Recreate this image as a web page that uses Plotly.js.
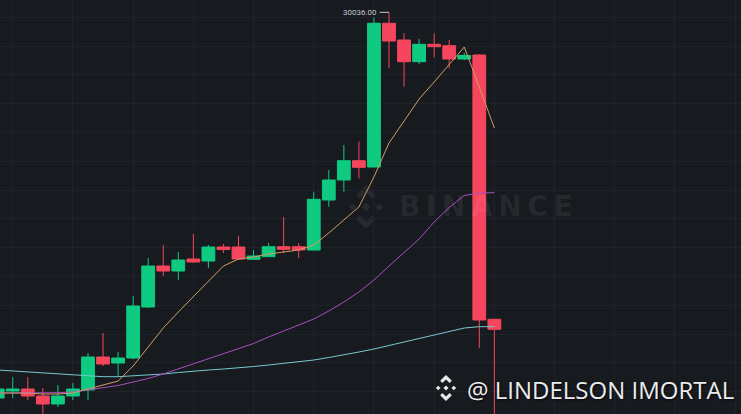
<!DOCTYPE html>
<html>
<head>
<meta charset="utf-8">
<script src="https://cdn.plot.ly/plotly-3.0.1.min.js"></script>
<style>
    html, body { margin: 0; padding: 0; background: #171a1f; }
    #chart { width: 741px; height: 414px; }
</style>
</head>
<body>
<div id="chart"></div>
<script>

// ==========================================================
// CANDLE DATA
// ==========================================================

let opens = [
    26179, 26249, 26269, 26199, 26119, 26199, 26259, 26589, 26529, 26579,
    27089, 27499, 27449, 27569, 27549, 27689, 27689, 27566, 27592, 27692,
    27692, 27659, 28159, 28359, 28552, 28489, 29926, 29759, 29542, 29716,
    29702, 29569, 29609, 26966
];

let highs = [
    26299, 26389, 26389, 26279, 26309, 26329, 26629, 26829, 26639, 27199,
    27579, 27709, 27639, 27819, 27709, 27719, 27799, 27659, 27729, 27989,
    27729, 28242, 28459, 28709, 28742, 29982, 30036, 29826, 29769, 29826,
    29759, 29629, 29619, 26969
];

let lows = [
    26149, 26179, 26159, 26019, 26089, 26159, 26159, 26499, 26389, 26569,
    27079, 27399, 27359, 27529, 27479, 27629, 27559, 27559, 27589, 27629,
    27579, 27654, 28092, 28242, 28376, 28484, 29476, 29292, 29516, 29582,
    29476, 29559, 26679, 25950
];

let closes = [
    26269, 26269, 26199, 26119, 26199, 26269, 26589, 26519, 26579, 27099,
    27499, 27449, 27559, 27539, 27689, 27664, 27569, 27599, 27692, 27666,
    27659, 28166, 28359, 28552, 28486, 29926, 29749, 29542, 29716, 29692,
    29569, 29604, 26959, 26866
];


// ==========================================================
// MOVING AVERAGES
// ==========================================================

let ma7 = [
    26229, 26229, 26229, 26219, 26219, 26229, 26269, 26309, 26349, 26499,
    26689, 26879, 27039, 27189, 27349, 27499, 27569, 27589, 27619, 27639,
    27659, 27709, 27829, 27959, 28089, 28389, 28729, 28949, 29169, 29339,
    29519, 29689, 29289, 28879
];

let ma25 = [
    26229, 26229, 26229, 26229, 26232, 26239, 26259, 26279, 26304, 26339,
    26374, 26419, 26469, 26519, 26569, 26619, 26669, 26724, 26789, 26849,
    26904, 26969, 27049, 27139, 27239, 27359, 27499, 27639, 27769, 27939,
    28084, 28204, 28229, 28232
];

let ma99 = [
    26459, 26449, 26439, 26429, 26419, 26409, 26399, 26392, 26392, 26399,
    26409, 26419, 26434, 26449, 26459, 26469, 26479, 26494, 26509, 26524,
    26539, 26559, 26584, 26609, 26639, 26669, 26704, 26739, 26774, 26809,
    26849, 26879, 26892, 26892
];


const W = 741;
const H = 414;

const GREEN = "#0ecb81";
const RED = "#f6465d";

const WATERMARK = "rgba(255,255,255,0.065)";


// candle slots
let idx = opens.map((_, i) => i);


// ==========================================================
// HELPERS
// ==========================================================

// pixel -> paper coordinates (margins are zero)
function px(x) { return x / W; }
function py(y) { return 1 - y / H; }


// Binance diamond logo as path shapes
function logoShapes(cx, cy, r, color, layer) {

    let parts = [

        [[0, 0.2], [0.2, 0], [0, -0.2], [-0.2, 0]],

        [[-0.6, 0.18], [-0.42, 0], [-0.6, -0.18], [-0.78, 0]],

        [[0.6, 0.18], [0.78, 0], [0.6, -0.18], [0.42, 0]],

        [[0, 1], [0.45, 0.55], [0.28, 0.38], [0, 0.66], [-0.28, 0.38], [-0.45, 0.55]],

        [[0, -1], [0.45, -0.55], [0.28, -0.38], [0, -0.66], [-0.28, -0.38], [-0.45, -0.55]]

    ];

    return parts.map(pts => {

        let d = pts.map((p, k) =>
            (k ? "L" : "M") + px(cx + p[0] * r).toFixed(5) + "," + py(cy - p[1] * r).toFixed(5)
        ).join(" ") + " Z";

        return {
            type: "path",
            xref: "paper",
            yref: "paper",
            path: d,
            fillcolor: color,
            line: { width: 0 },
            layer: layer
        };

    });

}


// ==========================================================
// TRACES
// ==========================================================

function maTrace(values, color) {

    return {
        x: idx,
        y: values,
        type: "scatter",
        mode: "lines",
        line: { color: color, width: 1 },
        hoverinfo: "skip",
        showlegend: false
    };

}


let traces = [

    maTrace(ma99, "#78c9d2"),

    maTrace(ma25, "#a94fc0"),

    maTrace(ma7, "#d09e66"),

    {
        x: idx,
        open: opens,
        high: highs,
        low: lows,
        close: closes,
        type: "candlestick",
        whiskerwidth: 0,
        increasing: { line: { color: GREEN, width: 1 }, fillcolor: GREEN },
        decreasing: { line: { color: RED, width: 1 }, fillcolor: RED },
        showlegend: false
    }

];


// highest high marker
let topPrice = Math.max(...highs);
let topIdx = highs.indexOf(topPrice);


// ==========================================================
// LAYOUT
// ==========================================================

let layout = {

    width: W,
    height: H,
    margin: { l: 0, r: 0, t: 0, b: 0 },

    paper_bgcolor: "#171a1f",
    plot_bgcolor: "#171a1f",

    boxgap: 0.15,
    boxgroupgap: 0,

    showlegend: false,

    xaxis: {
        range: [2.3 / 15.05, (W + 2.3) / 15.05],
        rangeslider: { visible: false },
        showticklabels: false,
        ticks: "",
        tick0: 1,
        dtick: 4,
        gridcolor: "#1f2329",
        gridwidth: 1,
        zeroline: false,
        showline: false,
        fixedrange: true
    },

    yaxis: {
        range: [26019, 30159],
        showticklabels: false,
        ticks: "",
        tick0: 29699,
        dtick: 288,
        gridcolor: "#1f2329",
        gridwidth: 1,
        zeroline: false,
        showline: false,
        fixedrange: true
    },

    shapes: [

        {
            type: "line",
            xref: "x",
            yref: "y",
            x0: topIdx - 0.62,
            x1: topIdx,
            y0: topPrice,
            y1: topPrice,
            line: { color: "#c3c7cd", width: 1 }
        }

    ]
    .concat(logoShapes(366, 207, 22, WATERMARK, "below"))
    .concat(logoShapes(446, 388, 13, "#e8e8e8", "above")),

    annotations: [

        {
            x: topIdx,
            y: topPrice,
            xref: "x",
            yref: "y",
            text: topPrice.toFixed(2),
            showarrow: false,
            xanchor: "right",
            yanchor: "middle",
            xshift: -10,
            font: { family: "Roboto, sans-serif", size: 8, color: "#c3c7cd" }
        },

        {
            x: px(397),
            y: py(206),
            xref: "paper",
            yref: "paper",
            text: "B\u2009I\u2009N\u2009A\u2009N\u2009C\u2009E",
            showarrow: false,
            xanchor: "left",
            yanchor: "middle",
            font: { family: "DejaVu Sans, sans-serif", size: 28, weight: 700, color: WATERMARK }
        },

        {
            x: px(465),
            y: py(389),
            xref: "paper",
            yref: "paper",
            text: "@ LINDELSON IMORTAL",
            showarrow: false,
            xanchor: "left",
            yanchor: "middle",
            font: {
                family: "Open Sans, sans-serif",
                size: 24,
                color: "#ececec",
                shadow: "1px 1px 2px rgba(0,0,0,0.8)"
            }
        }

    ]

};


Plotly.newPlot("chart", traces, layout, { displayModeBar: false, staticPlot: true });

</script>
</body>
</html>
